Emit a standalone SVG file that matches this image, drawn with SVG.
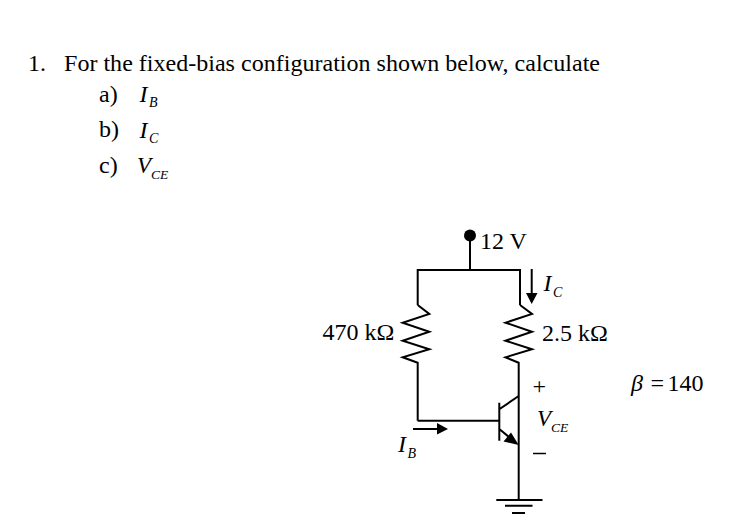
<svg xmlns="http://www.w3.org/2000/svg" width="754" height="527" viewBox="0 0 754 527">
<style>
text{font-family:"Liberation Serif","Times New Roman",serif;fill:#000;font-size:24px}
.i{font-style:italic}
.s{font-style:italic;font-size:14px}
.v{font-style:italic;font-size:23px}
.c{font-style:italic;font-size:13.5px}
.w{fill:none;stroke:#000;stroke-width:2;stroke-linejoin:miter}
.t{fill:none;stroke:#000;stroke-width:2}
</style>
<rect width="754" height="527" fill="#fff"/>
<g id="question">
<text x="28" y="71">1.</text>
<text x="64" y="71" textLength="536" lengthAdjust="spacing">For the fixed-bias configuration shown below, calculate</text>
<text x="99" y="101.5">a)</text><text class="i" x="139.5" y="101.5">I<tspan class="s" dx="1.5" dy="5.5">B</tspan></text>
<text x="99" y="137">b)</text><text class="i" x="139.5" y="137.5">I<tspan class="s" dx="1.5" dy="5.5">C</tspan></text>
<text x="99" y="173">c)</text><text class="v" x="137" y="173">V<tspan class="c" dy="5.5">CE</tspan></text>
</g>
<g id="connectors">
<path class="w" d="M470 235V270M417.7 305V270H520V305"/>
<path class="w" d="M417.7 420.7H499"/>
<path class="w" d="M518.7 396V500"/>
</g>
<g id="supply"><circle cx="470" cy="235.5" r="6"/><text x="480" y="249">12 V</text></g>
<g id="r1"><path class="w" d="M417.7 305L429.3 314L402.7 322.7L429.3 331.7L402.7 340.7L429.3 349.3L402.7 357.3L417.7 362.7V420.7"/><text x="322.5" y="340">470 kΩ</text></g>
<g id="r2"><path class="w" d="M520 305L532 314L505.5 322.7L532 331.7L505.5 340.7L532 349.3L505.5 357.3L518.7 362.7V396"/><text x="542" y="341">2.5 kΩ</text></g>
<g id="ic"><path class="w" d="M531.7 269V294"/><path d="M526 293H537.5L531.7 304Z"/><text class="i" x="543.5" y="291">I<tspan class="s" dx="1.5" dy="6">C</tspan></text></g>
<g id="transistor">
<path class="t" d="M499.3 402.7V440.7M499.3 409.3L518.7 396M499.3 429L512 439.5"/>
<path d="M518.7 445L511 432.5L503.5 441.5Z"/>
</g>
<g id="ib"><path class="w" d="M413 429H438"/><path d="M437 423L448 429L437 434.5Z"/><text class="i" x="398" y="452">I<tspan class="s" dx="1.5" dy="6">B</tspan></text></g>
<g id="vce"><text x="532.5" y="393.5">+</text><text class="v" x="537" y="426">V<tspan class="c" dy="6">CE</tspan></text><path d="M533 453.5H546" stroke="#000" stroke-width="1.5"/></g>
<g id="ground"><path class="t" d="M496.3 500H542.5M505 505.7H532.5M512 513H525"/></g>
<g id="beta"><text x="631" y="391"><tspan class="i">β</tspan><tspan x="650.5">=</tspan><tspan x="667.5">140</tspan></text></g>
</svg>
